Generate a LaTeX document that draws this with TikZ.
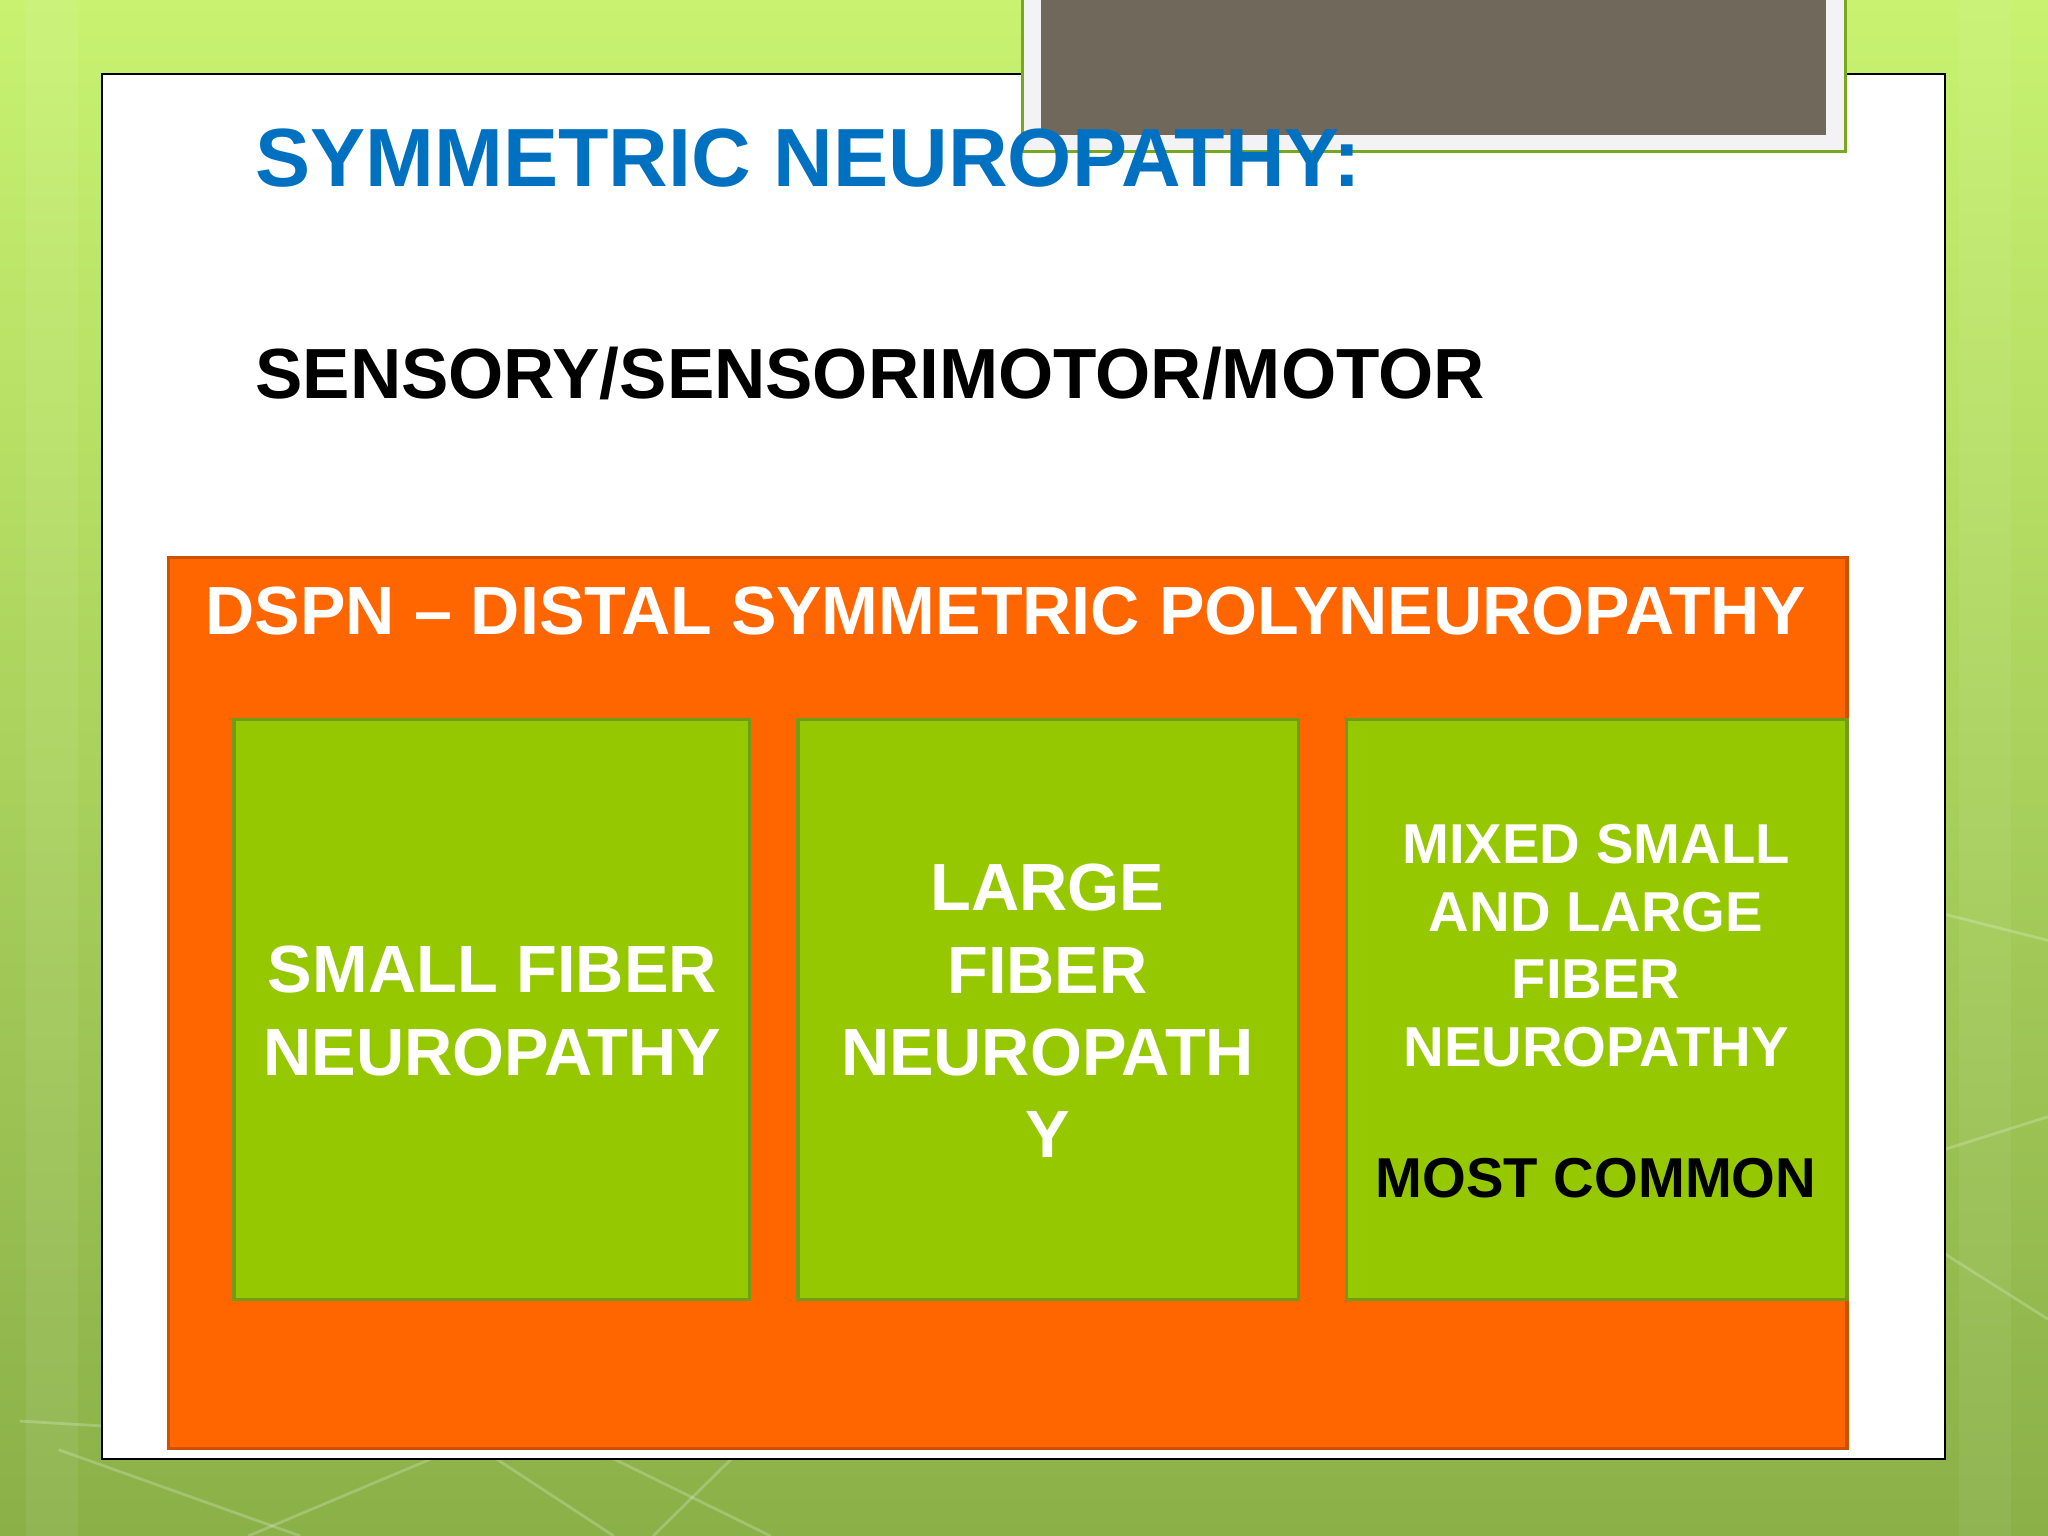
\documentclass[tikz,border=0pt]{standalone}
\usepackage{fontspec}
\setmainfont{Liberation Sans}
\definecolor{slideblue}{RGB}{0,112,192}
\definecolor{dspnorange}{RGB}{255,102,0}
\definecolor{dspnedge}{RGB}{204,82,0}
\definecolor{fibergreen}{RGB}{150,200,0}
\definecolor{fiberedge}{RGB}{112,156,24}
\definecolor{bgtop}{RGB}{200,242,112}
\definecolor{bgbottom}{RGB}{138,176,72}
\definecolor{photogray}{RGB}{112,104,91}
\definecolor{photoframe}{RGB}{243,243,245}
\definecolor{photoedge}{RGB}{120,168,32}
\tikzset{
  boxtext/.style={text=white, font=\bfseries\fontsize{19}{23.4}\selectfont, align=center, inner sep=0pt},
  mixtext/.style={boxtext, font=\bfseries\fontsize{16}{19.3}\selectfont},
  fiberbox/.style={draw=fiberedge, line width=1pt, fill=fibergreen},
  faint/.style={white, opacity=0.22, line width=0.8pt}
}
\begin{document}
\begin{tikzpicture}[x=0.013061cm, y=-0.013061cm]
		\useasboundingbox (0,0) rectangle (1568,1176);
		\shade[top color=bgtop, bottom color=bgbottom] (0,0) rectangle (1568,1176);
		% faint background lines
		\draw[faint] (15,1088) -- (100,1093);
		\draw[faint] (45,1110) -- (230,1176);
		\draw[faint] (190,1176) -- (330,1117);
		\draw[faint] (380,1117) -- (470,1176);
		\draw[faint] (470,1117) -- (590,1176);
		\draw[faint] (500,1176) -- (560,1117);
		\draw[faint] (1489,880) -- (1568,855);
		\draw[faint] (1489,960) -- (1568,1010);
		\draw[faint] (1489,700) -- (1568,720);
		\fill[white, opacity=0.07] (20,0) rectangle (60,1176);
		\fill[white, opacity=0.06] (1500,0) rectangle (1540,1176);
		% slide panel and photo
		\draw[black, line width=0.6pt, fill=white] (78,57) rectangle (1489,1117);
		\draw[photoedge, line width=1pt, fill=photoframe] (783,-5) rectangle (1413,116);
		\fill[photogray] (797,-5) rectangle (1398,103);
		\node[anchor=west, inner sep=0pt, text=slideblue, font=\bfseries\fontsize{23.5}{28}\selectfont] (title) at (195,121) {SYMMETRIC NEUROPATHY:};
		\node[anchor=west, inner sep=0pt, font=\bfseries\fontsize{20.2}{24}\selectfont] (types) at (195,286) {SENSORY/SENSORIMOTOR/MOTOR};
		% DSPN box
		\draw[dspnedge, line width=1pt, fill=dspnorange] (129,427) rectangle (1414,1109);
		\node[boxtext, font=\bfseries\fontsize{19.4}{23}\selectfont] (dspn) at (770,468) {DSPN – DISTAL SYMMETRIC POLYNEUROPATHY};
		\draw[fiberbox] (179,551) rectangle (574,995);
		\draw[fiberbox] (611,551) rectangle (994,995);
		\draw[fiberbox] (1031,551) rectangle (1414,995);
		\node[boxtext] (small) at (377,774) {SMALL FIBER\\NEUROPATHY};
		\node[boxtext] (large) at (802,774) {LARGE\\FIBER\\NEUROPATH\\Y};
		\node[mixtext] (mixed) at (1222,724) {MIXED SMALL\\AND LARGE\\FIBER\\NEUROPATHY};
		\node[mixtext, text=black] (common) at (1222,902) {MOST COMMON};
\end{tikzpicture}
\end{document}
